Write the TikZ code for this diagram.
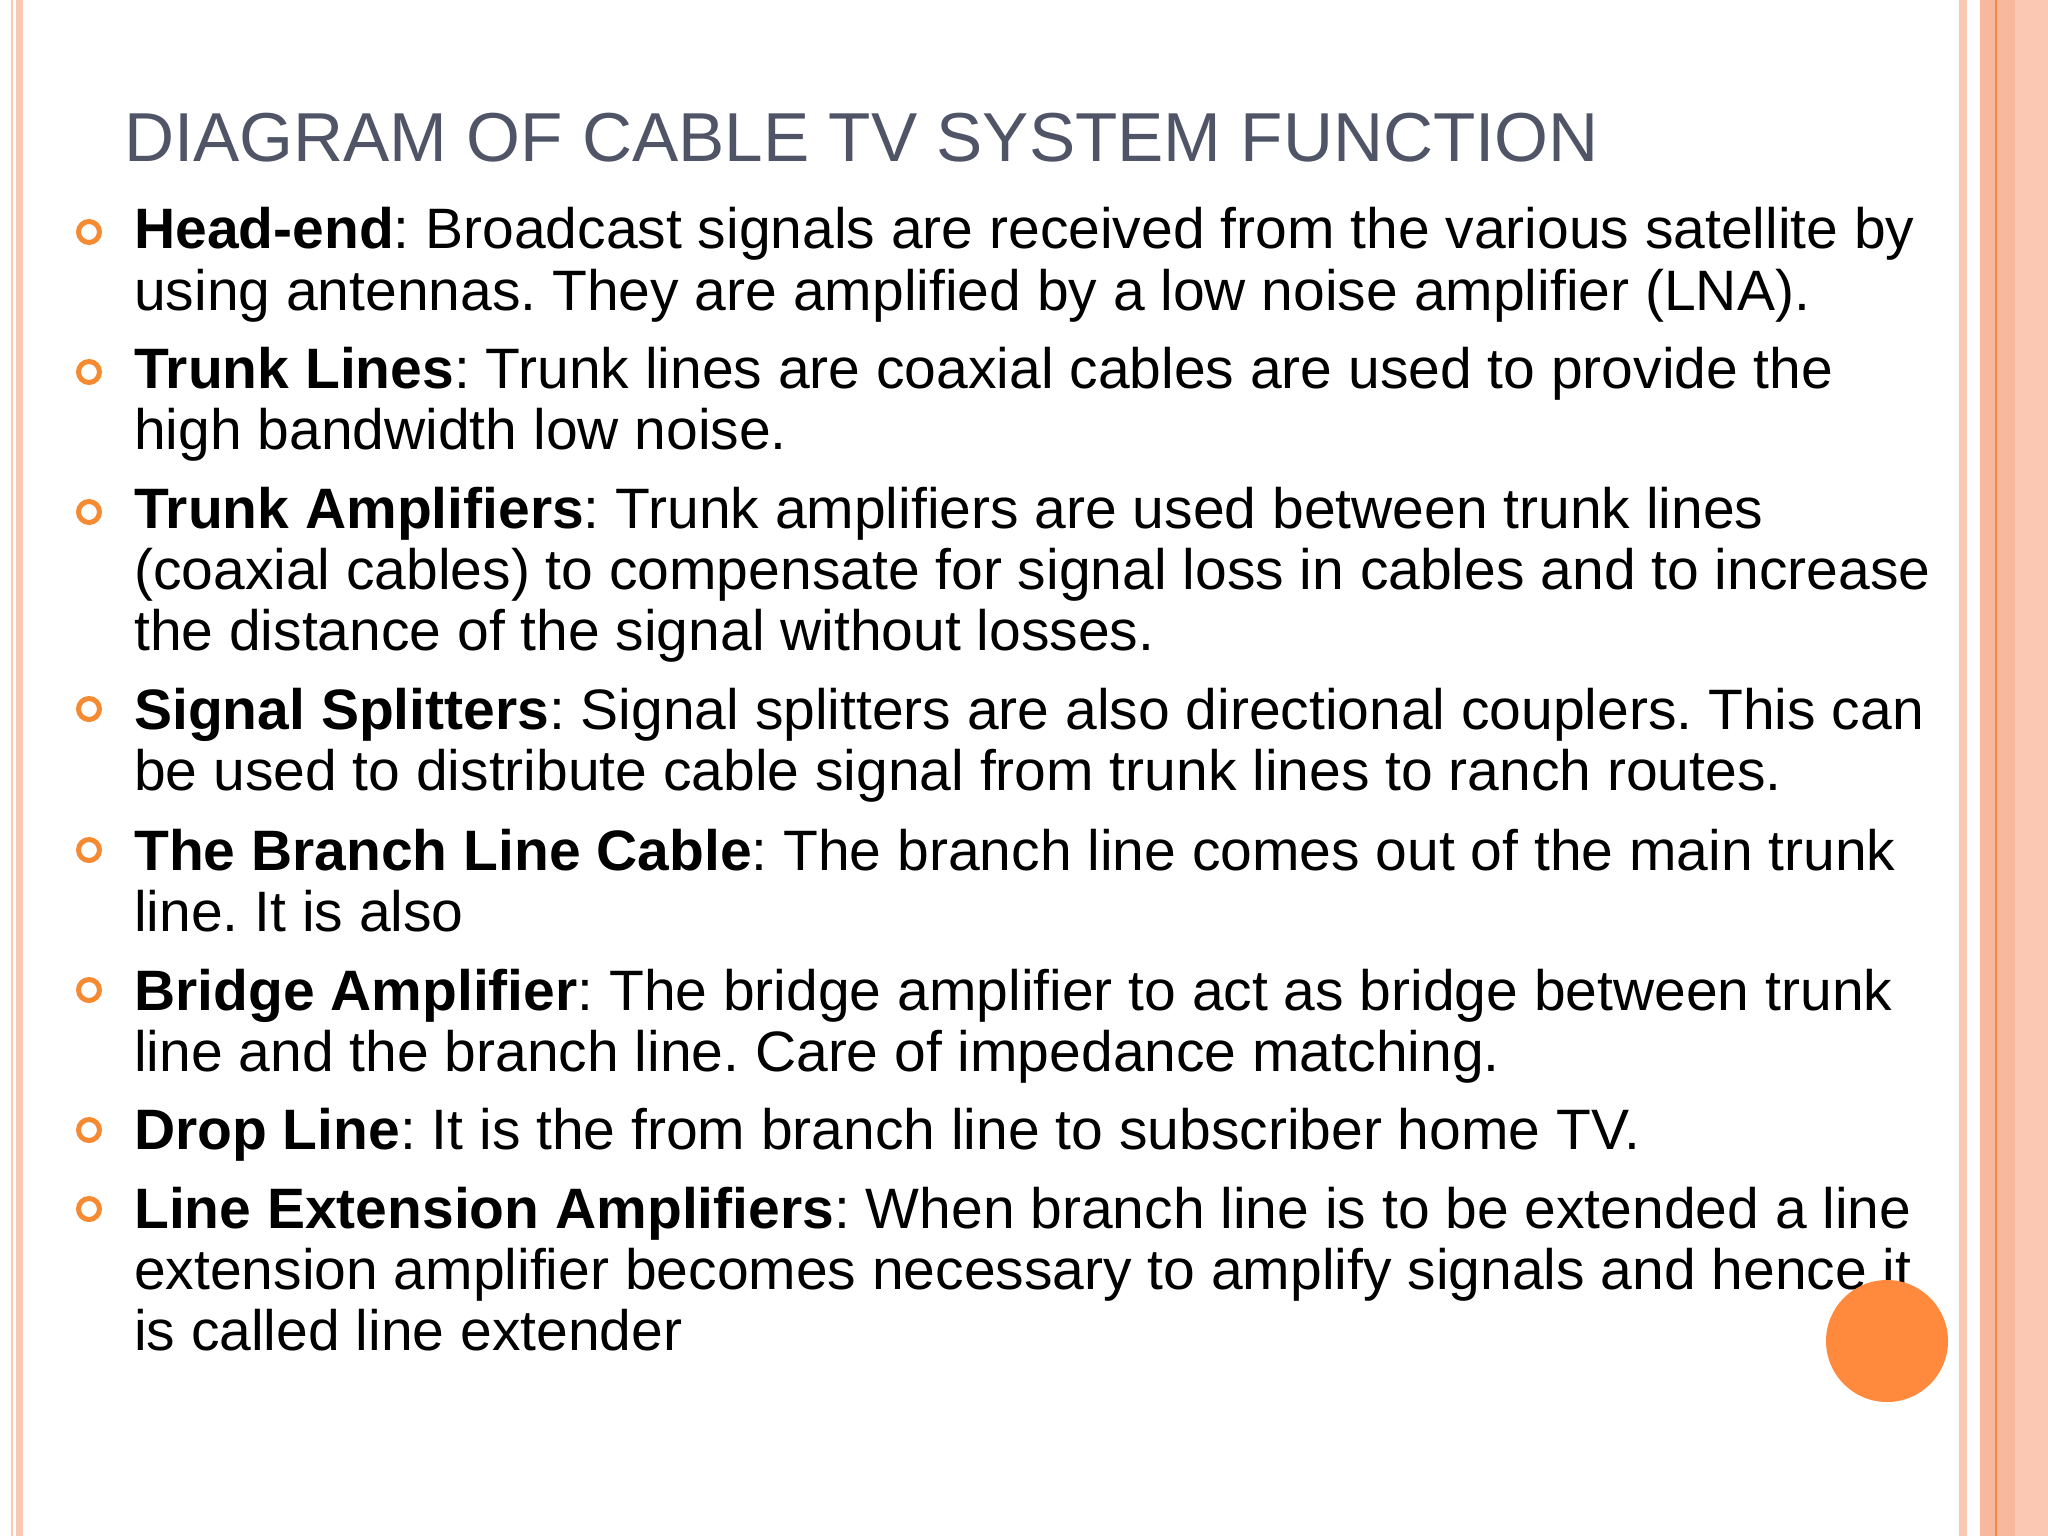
\documentclass[tikz,border=0pt]{standalone}
\usepackage{fontspec}
\setmainfont{Liberation Sans}
\frenchspacing
\definecolor{salmon}{HTML}{FBC8B4}
\definecolor{salmond}{HTML}{F8B89E}
\definecolor{orline}{HTML}{F08A4B}
\definecolor{bul}{HTML}{F58A32}
\definecolor{ttl}{HTML}{4F5566}
\definecolor{dot}{HTML}{FF8A3D}
\begin{document}
\begin{tikzpicture}[x=1pt,y=-1pt,
  ln/.style={anchor=base west,inner sep=0pt,font=\fontsize{57}{61}\selectfont},
  bl/.style={circle,draw=bul,line width=5pt,minimum size=21pt,inner sep=0pt}]
\useasboundingbox (0,0) rectangle (2048,1536);
\fill[white] (0,0) rectangle (2048,1536);
% left stripes
\fill[salmon] (11,0) rectangle (13,1536);
\fill[salmon] (16,0) rectangle (23,1536);
% right stripes
\fill[salmon] (1959,0) rectangle (1967,1536);
\fill[salmon] (1980,0) rectangle (2048,1536);
\fill[salmond] (1980,0) rectangle (2015,1536);
\draw[orline,line width=1.5pt] (1996,0) -- (1996,1536);
% title
\node[anchor=base west,inner sep=0pt,text=ttl,font=\fontsize{69.3}{76}\selectfont] (title) at (124,161) {DIAGRAM OF CABLE TV SYSTEM FUNCTION};
% bullets
\foreach \y/\n in {232/b1,372/b2,512/b3,709/b4,850/b5,990/b6,1130/b7,1209/b8}
  \node[bl] (\n) at (89,\y) {};
\node[ln] (l1) at (134,248) {\textbf{Head-end}: Broadcast signals are received from the various satellite by};
\node[ln] (l2) at (134,310) {using antennas. They are amplified by a low noise amplifier (LNA).};
\node[ln] (l3) at (134,388) {\textbf{Trunk Lines}: Trunk lines are coaxial cables are used to provide the};
\node[ln] (l4) at (134,449) {high bandwidth low noise.};
\node[ln] (l5) at (134,528) {\textbf{Trunk Amplifiers}: Trunk amplifiers are used between trunk lines};
\node[ln] (l6) at (134,589) {(coaxial cables) to compensate for signal loss in cables and to increase};
\node[ln] (l7) at (134,650) {the distance of the signal without losses.};
\node[ln] (l8) at (134,729) {\textbf{Signal Splitters}: Signal splitters are also directional couplers. This can};
\node[ln] (l9) at (134,790) {be used to distribute cable signal from trunk lines to ranch routes.};
\node[ln] (l10) at (134,870) {\textbf{The Branch Line Cable}: The branch line comes out of the main trunk};
\node[ln] (l11) at (134,931) {line. It is also};
\node[ln] (l12) at (134,1010) {\textbf{Bridge Amplifier}: The bridge amplifier to act as bridge between trunk};
\node[ln] (l13) at (134,1071) {line and the branch line. Care of impedance matching.};
\node[ln] (l14) at (134,1149) {\textbf{Drop Line}: It is the from branch line to subscriber home TV.};
\node[ln] (l15) at (134,1228) {\textbf{Line Extension Amplifiers}: When branch line is to be extended a line};
\node[ln] (l16) at (134,1289) {extension amplifier becomes necessary to amplify signals and hence it};
\node[ln] (l17) at (134,1350) {is called line extender};
\fill[dot] (1887,1341) circle (61);
\end{tikzpicture}
\end{document}
